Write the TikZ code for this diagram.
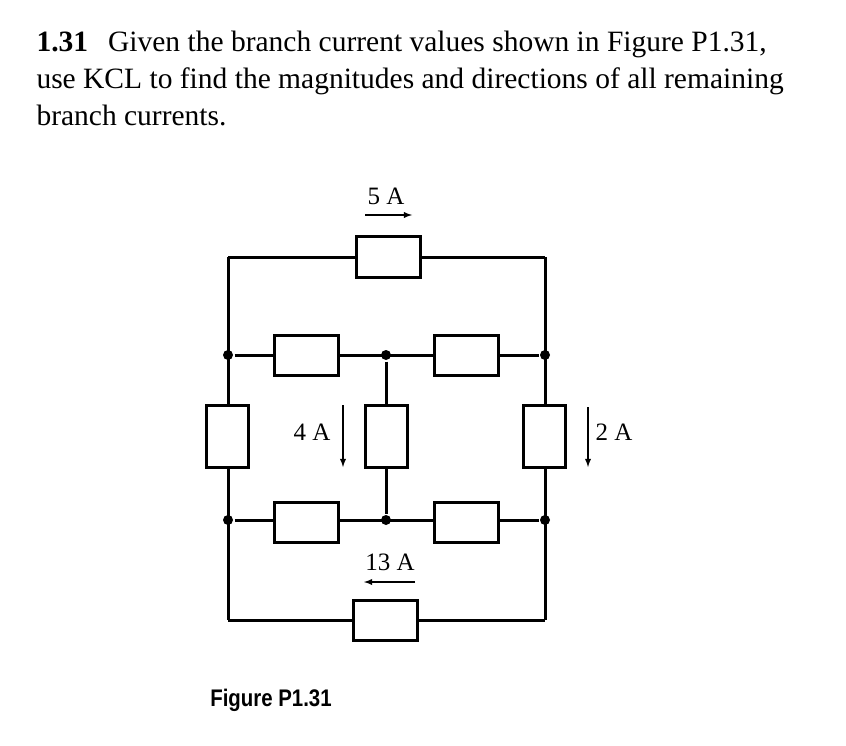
\documentclass[tikz,border=0pt]{standalone}
\usepackage{fontspec}
\setmainfont{Liberation Serif}
\newfontfamily\figfont{Liberation Sans}[FakeStretch=0.85]
\begin{document}
\begin{tikzpicture}[x=1pt,y=-1pt,line width=3pt,
  hres/.style={draw,fill=white,minimum width=64pt,minimum height=40pt,inner sep=0},
  vres/.style={draw,fill=white,minimum width=42pt,minimum height=62pt,inner sep=0},
  dot/.style={circle,fill,inner sep=0,minimum size=10pt},
  cur/.style={line width=1.8pt,-latex},
  lab/.style={font=\fontsize{25}{28}\selectfont,inner sep=0}]
\useasboundingbox (0,0) rectangle (846,746);
\node[anchor=north west,align=left,inner sep=0,font=\fontsize{29.5}{37}\selectfont] (txt) at (35,30)
 {\textbf{1.31}\hspace{20pt}Given the branch current values shown in Figure P1.31,\\
  use KCL to find the magnitudes and directions of all remaining\\
  branch currents.};
% nodes
\coordinate (TL) at (228,257); \coordinate (TR) at (545,257);
\coordinate (BL) at (228,620); \coordinate (BR) at (545,620);
\node[dot] (a) at (228,355) {}; \node[dot] (b) at (386,355) {}; \node[dot] (c) at (545,355) {};
\node[dot] (d) at (228,520) {}; \node[dot] (e) at (386,520) {}; \node[dot] (f) at (545,520) {};
% wires
\draw (TL) -- (TR); \draw (BL) -- (BR);
\draw (TL) -- (BL); \draw (TR) -- (BR);
\draw (a) -- (c); \draw (d) -- (f); \draw (b) -- (e);
% resistors
\node[hres] (R1) at (388,257) {};
\node[hres] (R2) at (306,355) {}; \node[hres] (R3) at (466,355) {};
\node[vres] (R4) at (227,436) {}; \node[vres] (R5) at (386,436) {}; \node[vres] (R6) at (544,436) {};
\node[hres] (R7) at (306,522) {}; \node[hres] (R8) at (466,522) {};
\node[hres] (R9) at (385,620) {};
% currents
\node[lab] (l5) at (386,196) {5 A};
\coordinate (a5s) at (365,215); \coordinate (a5e) at (412,215);
\draw[cur] (a5s) -- (a5e);
\node[lab] (l4) at (312,432) {4 A};
\coordinate (a4s) at (343,405); \coordinate (a4e) at (343,467);
\draw[cur] (a4s) -- (a4e);
\node[lab] (l2) at (614,432) {2 A};
\coordinate (a2s) at (588,407); \coordinate (a2e) at (588,467);
\draw[cur] (a2s) -- (a2e);
\node[lab] (l13) at (390,562) {13 A};
\coordinate (a13s) at (415,582); \coordinate (a13e) at (364,582);
\draw[cur] (a13s) -- (a13e);
\node[inner sep=0,font=\figfont\bfseries\fontsize{24}{28}\selectfont] (fig) at (271,700) {Figure P1.31};
\end{tikzpicture}
\end{document}
